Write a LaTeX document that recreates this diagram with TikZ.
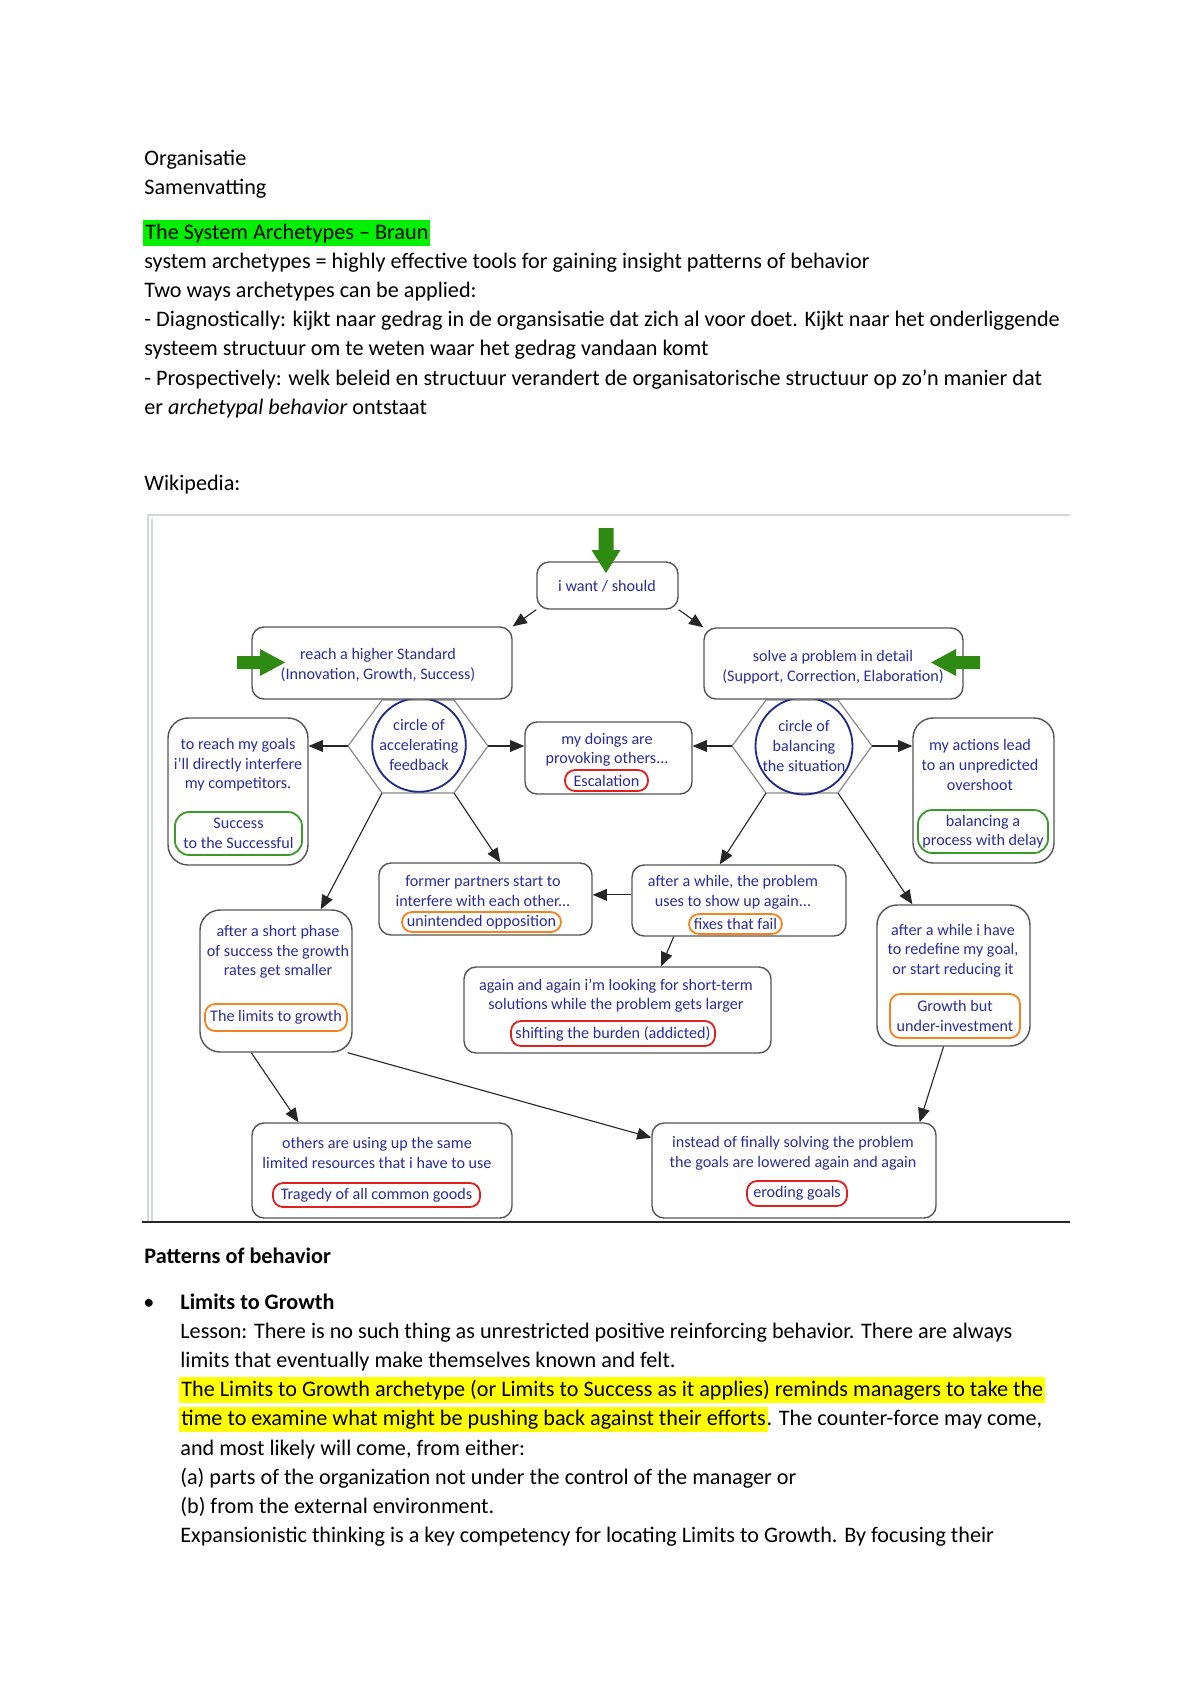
\documentclass[tikz,border=0pt]{standalone}
\usepackage{fontspec}
\setmainfont{Carlito}
\usetikzlibrary{arrows.meta,fit}
\definecolor{DiagBlue}{HTML}{2B2D96}
\definecolor{CircleBlue}{HTML}{1F2A85}
\definecolor{OvalRed}{HTML}{E0201E}
\definecolor{OvalOrange}{HTML}{F5841F}
\definecolor{OvalGreen}{HTML}{3A9A2A}
\definecolor{ArrowGreen}{HTML}{2F8A12}
\definecolor{BoxGray}{HTML}{555555}
\definecolor{HexGray}{HTML}{8A8A8A}
\definecolor{FrameGray}{HTML}{D3D7DD}
\definecolor{HiGreen}{HTML}{00F000}
\definecolor{HiYellow}{HTML}{FFFF00}
\newcommand{\bodysize}{\fontsize{11}{13.4}\selectfont}
\newcommand{\diagsize}{\fontsize{8}{9.7}\selectfont}

\begin{document}
\begin{tikzpicture}[x=0.4961pt, y=-0.4961pt,
  every node/.style={font=\diagsize},
  body/.style={anchor=base west, inner sep=0pt, font=\bodysize},
  hl/.style={inner xsep=1pt, inner ysep=0pt, text height=9.5pt, text depth=3.3pt},
  box/.style={draw=BoxGray, fill=white, line width=0.7pt, rounded corners=6pt, inner sep=0pt},
  tallbox/.style={box, rounded corners=10pt},
  boxtext/.style={text=DiagBlue, align=center, inner sep=0pt},
  oval/.style={draw, line width=0.9pt, rounded corners=5pt, inner sep=0pt, text=DiagBlue, align=center},
  redoval/.style={oval, draw=OvalRed},
  orangeoval/.style={oval, draw=OvalOrange},
  greenoval/.style={oval, draw=OvalGreen, rounded corners=7pt},
  loopcircle/.style={circle, draw=CircleBlue, line width=0.9pt, minimum size=44.6pt, inner sep=0pt, text=DiagBlue, align=center},
  hexline/.style={draw=HexGray, line width=0.6pt},
  arr/.style={-{Triangle[length=7pt,width=5.8pt]}, draw=black!85, line width=0.55pt}
]
  \fill[white] (0,0) rectangle (1200,1698);
  \useasboundingbox (0,0) rectangle (1200,1698);

  % page text above the figure
  \node[body] (org) at (144,165) {Organisatie};
  \node[body] (sam) at (144,194) {Samenvatting};
  \node[body, hl, fill=HiGreen] (braun) at (143,239) {The System Archetypes – Braun};
  \foreach \y/\nm/\txt in {268.2/def/{system archetypes = highly effective tools for gaining insight patterns of behavior},
      297.4/ways/{Two ways archetypes can be applied:},
      326.6/diag/{- Diagnostically: kijkt naar gedrag in de organsisatie dat zich al voor doet. Kijkt naar het onderliggende},
      355.8/diagb/{systeem structuur om te weten waar het gedrag vandaan komt},
      385/prosp/{- Prospectively: welk beleid en structuur verandert de organisatorische structuur op zo’n manier dat},
      414.2/prospb/{er \textit{archetypal behavior} ontstaat},
      490/wiki/{Wikipedia:}}
    \node[body] (\nm) at (144,\y) {\txt};

  % figure frame
  \draw[FrameGray, line width=0.8pt] (148,1222) -- (148,515) -- (1070,515);
  \draw[FrameGray, line width=0.5pt] (152,1222) -- (152,519);
  \draw[black!85, line width=0.9pt] (142,1222) -- (1070,1222);

  % hexagons round the two loops
  \foreach \cx/\nm in {418/L, 802/R} {
    \draw[hexline] (\cx-70,746) -- (\cx-36,700) -- (\cx+36,700) -- (\cx+70,746) -- (\cx+36,793) -- (\cx-36,793) -- cycle;
    \coordinate (hex\nm-w) at (\cx-70,746);
    \coordinate (hex\nm-e) at (\cx+70,746);
    \coordinate (hex\nm-sw) at (\cx-36,793);
    \coordinate (hex\nm-se) at (\cx+36,793);
  }
  \node[loopcircle] (accel) at (419,745) {circle of\\accelerating\\feedback};
  \node[loopcircle] (balance) at (804,746) {circle of\\balancing\\the situation};

  % boxes
  \node[box, fit={(537,562) (678,609)}] (want) {};
  \node[boxtext] (want-txt) at (607,586) {i want / should};
  \node[box, fit={(252,627) (512,699)}] (higher) {};
  \node[boxtext] (higher-txt) at (378,665) {reach a higher Standard\\(Innovation, Growth, Success)};
  \node[box, fit={(704,628) (963,699)}] (solve) {};
  \node[boxtext] (solve-txt) at (833,667) {solve a problem in detail\\(Support, Correction, Elaboration)};

  \node[tallbox, fit={(168,718) (308,865)}] (reachgoals) {};
  \node[boxtext] (reachgoals-txt) at (238,765) {to reach my goals\\i'll directly interfere\\my competitors.};
  \node[greenoval, minimum width=63pt, minimum height=21.3pt] (success) at (238.5,833.5) {Success\\to the Successful};

  \node[box, fit={(525,722) (692,794)}] (doings) {};
  \node[boxtext] (doings-txt) at (607,750) {my doings are\\provoking others...};
  \node[redoval, minimum width=41.2pt, minimum height=10.4pt] (escalation) at (606.5,780.5) {Escalation};

  \node[tallbox, fit={(913,718) (1054,863)}] (actions) {};
  \node[boxtext] (actions-txt) at (980,765) {my actions lead\\to an unpredicted\\overshoot};
  \node[greenoval, minimum width=64.5pt, minimum height=21.3pt] (delay) at (983,831.5) {balancing a\\process with delay};

  \node[box, fit={(379,863) (592,935)}] (partners) {};
  \node[boxtext] (partners-txt) at (483,891) {former partners start to\\interfere with each other...};
  \node[orangeoval, minimum width=78.9pt, minimum height=9.9pt] (opposition) at (481.5,922) {unintended opposition};

  \node[box, fit={(632,865) (846,936)}] (fixes) {};
  \node[boxtext] (fixes-txt) at (733,892.5) {after a while, the problem\\uses to show up again...};
  \node[orangeoval, minimum width=46.1pt, minimum height=9.9pt] (fail) at (735.5,924) {fixes that fail};

  \node[tallbox, fit={(200,910) (352,1052)}] (shortphase) {};
  \node[boxtext] (shortphase-txt) at (278,952) {after a short phase\\of success the growth\\rates get smaller};
  \node[orangeoval, minimum width=70.4pt, minimum height=13.4pt] (limits) at (276,1017.5) {The limits to growth};

  \node[box, fit={(464,967) (771,1053)}] (again) {};
  \node[boxtext] (again-txt) at (616,995.5) {again and again i'm looking for short-term\\solutions while the problem gets larger};
  \node[redoval, minimum width=101.2pt, minimum height=12.4pt] (burden) at (613,1033.5) {shifting the burden (addicted)};

  \node[tallbox, fit={(877,905) (1030,1046)}] (redefine) {};
  \node[boxtext] (redefine-txt) at (953,950.5) {after a while i have\\to redefine my goal,\\or start reducing it};
  \node[orangeoval, minimum width=64.5pt, minimum height=21.8pt] (underinvest) at (955,1016) {Growth but\\under-investment};

  \node[box, fit={(252,1123) (512,1218)}] (others) {};
  \node[boxtext] (others-txt) at (377,1153) {others are using up the same\\limited resources that i have to use};
  \node[redoval, minimum width=102.7pt, minimum height=11.9pt] (tragedy) at (376.5,1195) {Tragedy of all common goods};

  \node[box, fit={(652,1123) (936,1218)}] (instead) {};
  \node[boxtext] (instead-txt) at (793,1153) {instead of finally solving the problem\\the goals are lowered again and again};
  \node[redoval, minimum width=49.6pt, minimum height=12.4pt] (eroding) at (797,1193.5) {eroding goals};

  % connectors
  \draw[arr] (want.south west) -- (higher.north east);
  \draw[arr] (want.south east) -- (solve.north west);
  \draw[arr] (hexL-w) -- (hexL-w -| reachgoals.east);
  \draw[arr] (hexL-e) -- (hexL-e -| doings.west);
  \draw[arr] (hexR-w) -- (hexR-w -| doings.east);
  \draw[arr] (hexR-e) -- (hexR-e -| actions.west);
  \draw[arr] (hexL-sw) -- (shortphase.58);
  \draw[arr] (hexL-se) -- (partners.68);
  \draw[arr] (hexR-sw) -- (fixes.118);
  \draw[arr] (hexR-se) -- (redefine.120);
  \draw[arr] (fixes.177) -- (fixes.177 -| partners.east);
  \draw[arr] (fixes.209) -- (again.45);
  \draw[arr] (shortphase.251) -- (others.150);
  \draw[arr] (shortphase.315) -- (instead.167);
  \draw[arr] (redefine.262) -- (instead.21);

  % green input arrows
  \fill[ArrowGreen] (598.5,528) -- (613.5,528) -- (613.5,550) -- (620.5,550) -- (606,573) -- (591.5,550) -- (598.5,550) -- cycle;
  \fill[ArrowGreen] (237,656) -- (260,656) -- (260,649) -- (285,662.5) -- (260,676) -- (260,669) -- (237,669) -- cycle;
  \fill[ArrowGreen] (980,656) -- (956,656) -- (956,649) -- (931,662.5) -- (956,676) -- (956,669) -- (980,669) -- cycle;

  % page text below the figure
  \node[body, font=\bodysize\bfseries] (patterns) at (144,1263) {Patterns of behavior};
  \node[body] (bullet) at (143,1309) {•};
  \node[body, font=\bodysize\bfseries] (ltg) at (180,1309) {Limits to Growth};
  \node[body] (lesson) at (180,1338) {Lesson: There is no such thing as unrestricted positive reinforcing behavior. There are always};
  \node[body] (lessonb) at (180,1367) {limits that eventually make themselves known and felt.};
  \node[body, hl, fill=HiYellow] (hla) at (179,1396.6) {The Limits to Growth archetype (or Limits to Success as it applies) reminds managers to take the};
  \node[body, hl, fill=HiYellow] (hlb) at (179,1425.7) {time to examine what might be pushing back against their efforts};
  \node[body, xshift=-1pt] (counter) at (hlb.base east) {. The counter-force may come,};
  \foreach \y/\nm/\txt in {1455/either/{and most likely will come, from either:},
      1484/parta/{(a) parts of the organization not under the control of the manager or},
      1513.5/partb/{(b) from the external environment.},
      1542.7/expan/{Expansionistic thinking is a key competency for locating Limits to Growth. By focusing their}}
    \node[body] (\nm) at (180,\y) {\txt};
\end{tikzpicture}
\end{document}
